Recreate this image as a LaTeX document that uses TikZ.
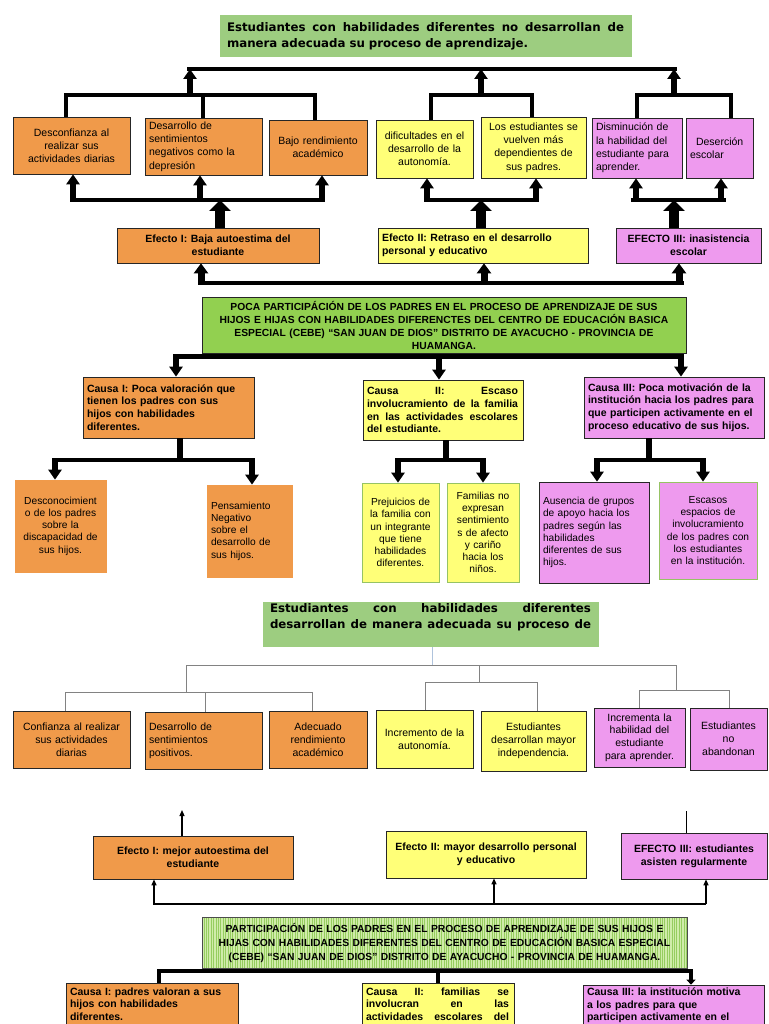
\documentclass[tikz,border=0pt]{standalone}
\usepackage{fontspec}
\setmainfont{Liberation Sans}
\newfontfamily\ttlfont{DejaVu Sans}
\usetikzlibrary{arrows.meta,patterns.meta}
\definecolor{cOr}{RGB}{240,154,74}
\definecolor{cYe}{RGB}{255,255,120}
\definecolor{cPk}{RGB}{238,154,238}
\definecolor{cGt}{RGB}{157,205,128}
\definecolor{cGc}{RGB}{146,208,80}
\definecolor{cGh}{RGB}{208,236,170}
\definecolor{cGl}{RGB}{150,205,95}
\definecolor{cGb}{RGB}{150,195,100}
\definecolor{cLn}{RGB}{130,130,130}
\definecolor{cLb}{RGB}{175,195,220}
\newcommand{\jline}[2]{\leavevmode\hbox to #1{\spaceskip=0.3em plus 3em\relax #2}}
\tikzset{
  sz/.code n args={2}{\pgfmathsetmacro\mytw{#1-8}\pgfkeysalso{minimum width=#1pt,minimum height=#2pt,text width=\mytw pt}},
  bx/.style={draw=black!85, line width=0.7pt, inner xsep=3.5pt, inner ysep=2pt, align=center, text=black, font=\fontsize{10.5}{13.2}\selectfont},
  bxs/.style={bx, font=\fontsize{10.2}{12.2}\selectfont},
  bxb/.style={bx, font=\fontsize{10.5}{12.8}\selectfont\bfseries},
  bxq/.style={bx, font=\fontsize{10.5}{12.3}\selectfont\bfseries},
  ora/.style={fill=cOr}, yel/.style={fill=cYe}, pnk/.style={fill=cPk},
  lt/.style={align=left},
  ttl/.style={fill=cGt, draw=none, inner xsep=3pt, inner ysep=2pt, align=left, font=\ttlfont\bfseries\fontsize{11.8}{16}\selectfont},
  cen/.style={draw=black!85, line width=1pt, inner xsep=3.5pt, inner ysep=2pt, align=center, font=\fontsize{10.3}{13}\selectfont\bfseries},
  bar/.style={line width=4.5pt},
  arrA/.style={line width=5.5pt, -{Triangle[width=13pt,length=10pt]}},
  arrB/.style={line width=10pt, -{Triangle[width=21pt,length=11pt]}},
  arrC/.style={line width=7pt, -{Triangle[width=14pt,length=10pt]}},
  thn/.style={draw=cLn, line width=0.9pt},
  arrT/.style={line width=1.2pt, -{Triangle[width=5pt,length=6pt]}},
}
\begin{document}
\begin{tikzpicture}[x=1pt,y=-1pt]
\useasboundingbox (0,0) rectangle (768,1024);
\clip (0,0) rectangle (768,1024);
\fill[white] (0,0) rectangle (768,1024);

% ================= FIRST TREE =================
\node[ttl, sz={412}{42}, text width=398pt] (t1) at (426,36) {\jline{397pt}{Estudiantes con habilidades diferentes no desarrollan de}\\manera adecuada su proceso de aprendizaje.};

\node[bx, ora, sz={117}{57}] (a1) at (71.5,145.5) {Desconfianza al\\realizar sus\\actividades diarias};
\node[bx, ora, lt, sz={117}{57}] (a2) at (203.5,146.5) {Desarrollo de\\sentimientos\\negativos como la\\depresión};
\node[bx, ora, sz={98}{55}] (a3) at (318,147.5) {Bajo rendimiento\\académico};
\node[bx, yel, sz={97}{58}] (b1) at (424.5,149) {dificultades en el\\desarrollo de la\\autonomía.};
\node[bx, yel, sz={105}{61}] (b2) at (533.5,147.5) {Los estudiantes se\\vuelven más\\dependientes de\\sus padres.};
\node[bx, pnk, lt, sz={90}{60}] (c1) at (637,148) {Disminución de\\la habilidad del\\estudiante para\\aprender.};
\node[bx, pnk, lt, sz={67}{60}] (c2) at (719.5,148) {\hspace*{6pt}Deserción\\escolar};

\node[bxb, ora, sz={202}{35}] (e1) at (218,245.5) {Efecto I: Baja autoestima del\\estudiante};
\node[bxb, yel, lt, sz={210}{35}] (e2) at (483,245.5) {Efecto II: Retraso en el desarrollo\\personal y educativo};
\node[bxb, pnk, sz={145}{35}] (e3) at (688.5,245.5) {EFECTO III: inasistencia\\escolar};

\node[cen, fill=cGc, sz={484}{56}] (p1) at (444,325) {POCA PARTICIPÁCIÓN DE LOS PADRES EN EL PROCESO DE APRENDIZAJE DE SUS\\HIJOS E HIJAS CON HABILIDADES DIFERENCTES DEL CENTRO DE EDUCACIÓN BASICA\\ESPECIAL (CEBE) “SAN JUAN DE DIOS” DISTRITO DE AYACUCHO - PROVINCIA DE\\HUAMANGA.};

\node[bxb, ora, lt, sz={171}{61}] (k1) at (168.5,407.5) {Causa I: Poca valoración que\\tienen los padres con sus\\hijos con habilidades\\diferentes.};
\node[bxb, yel, lt, sz={160}{60}] (k2) at (443,410) {\jline{151pt}{Causa II: Escaso}\\\jline{151pt}{involucramiento de la familia}\\\jline{151pt}{en las actividades escolares}\\del estudiante.};
\node[bxb, pnk, lt, sz={180}{61}] (k3) at (674,407.5) {Causa III: Poca motivación de la\\institución hacia los padres para\\que participen activamente en el\\proceso educativo de sus hijos.};

\node[bxs, ora, draw=cOr, sz={91}{92}] (d1) at (60.5,526) {Desconocimient\\o de los padres\\sobre la\\discapacidad de\\sus hijos.};
\node[bxs, ora, draw=cOr, lt, sz={85}{92}] (d2) at (249.5,531) {Pensamiento\\Negativo\\sobre el\\desarrollo de\\sus hijos.};
\node[bxs, yel, draw=cGb, sz={77}{99}] (d3) at (400.5,532.5) {Prejuicios de\\la familia con\\un integrante\\que tiene\\habilidades\\diferentes.};
\node[bxs, yel, draw=cGb, sz={72}{99}] (d4) at (483,532.5) {Familias no\\expresan\\sentimiento\\s de afecto\\y cariño\\hacia los\\niños.};
\node[bxs, pnk, lt, sz={110}{101}] (d5) at (594,532.5) {Ausencia de grupos\\de apoyo hacia los\\padres según las\\habilidades\\diferentes de sus\\hijos.};
\node[bxs, pnk, draw=cGb, sz={98}{97}] (d6) at (708,530.5) {Escasos\\espacios de\\involucramiento\\de los padres con\\los estudiantes\\en la institución.};

% connectors, top level
\coordinate (tbL) at (187,69); \coordinate (tbR) at (676.5,69);
\coordinate (g1) at (190,95); \coordinate (g2) at (481,95); \coordinate (g3) at (674,95);
\coordinate (g1L) at (66,95); \coordinate (g1M) at (203,95); \coordinate (g1R) at (315,95);
\coordinate (g2L) at (431,95); \coordinate (g2R) at (532,95);
\coordinate (g3L) at (637,95); \coordinate (g3R) at (731,95);
\draw[bar] (tbL) -- (tbR);
\draw[bar] (a1.north -| g1L) -- (g1L) -- (g1R) -- (a3.north -| g1R);
\draw[bar] (a2.north -| g1M) -- (g1M);
\draw[bar] (b1.north -| g2L) -- (g2L) -- (g2R) -- (b2.north -| g2R);
\draw[bar] (c1.north -| g3L) -- (g3L) -- (g3R) -- (c2.north -| g3R);
\draw[arrA] (g1) -- (g1 |- tbL);
\draw[arrA] (g2) -- (g2 |- tbL);
\draw[arrA] (g3) -- (g3 |- tbL);

% y = 200
\coordinate (h1L) at (70,200); \coordinate (h1R) at (325,200);
\coordinate (h1a) at (73,200); \coordinate (h1b) at (200,200); \coordinate (h1c) at (322,200); \coordinate (h1e) at (220,200);
\coordinate (h2L) at (424,200); \coordinate (h2R) at (539,200);
\coordinate (h2a) at (427,200); \coordinate (h2b) at (536,200); \coordinate (h2e) at (481,200);
\coordinate (h3L) at (631,200); \coordinate (h3R) at (726,200);
\coordinate (h3a) at (636,200); \coordinate (h3b) at (721,200); \coordinate (h3e) at (674,200);
\draw[bar] (h1L) -- (h1R);
\draw[bar] (h2L) -- (h2R);
\draw[bar] (h3L) -- (h3R);
\draw[arrA] (h1a) -- (a1.south -| h1a);
\draw[arrA] (h1b) -- (a2.south -| h1b);
\draw[arrA] (h1c) -- (a3.south -| h1c);
\draw[arrA] (h2a) -- (b1.south -| h2a);
\draw[arrA] (h2b) -- (b2.south -| h2b);
\draw[arrA] (h3a) -- (c1.south -| h3a);
\draw[arrA] (h3b) -- (c2.south -| h3b);
\draw[arrB] (e1.north -| h1e) -- (h1e);
\draw[arrB] (e2.north -| h2e) -- (h2e);
\draw[arrB] (e3.north -| h3e) -- (h3e);

% y = 283
\coordinate (iL) at (198,283); \coordinate (iR) at (684,283);
\coordinate (i1) at (201,283); \coordinate (i2) at (484,283); \coordinate (i3) at (679,283);
\draw[bar] (iL) -- (iR);
\draw[arrC] (i1) -- (e1.south -| i1);
\draw[arrC] (i2) -- (e2.south -| i2);
\draw[arrC] (i3) -- (e3.south -| i3);

% y = 356
\coordinate (jL) at (173,356); \coordinate (jR) at (684,356);
\coordinate (j1) at (176,356); \coordinate (j2) at (439,356); \coordinate (j3) at (681,356);
\draw[line width=5pt] (jL) -- (jR);
\draw[arrA] (j1) -- (k1.north -| j1);
\draw[arrA] (j2) -- (k2.north -| j2);
\draw[arrA] (j3) -- (k3.north -| j3);

% y = 460
\coordinate (l1s) at (180,460); \coordinate (l1L) at (52,460); \coordinate (l1R) at (255,460);
\coordinate (l1a) at (55,460); \coordinate (l1b) at (252,460);
\coordinate (l2s) at (446,460); \coordinate (l2L) at (395,460); \coordinate (l2R) at (486,460);
\coordinate (l2a) at (398,460); \coordinate (l2b) at (483,460);
\coordinate (l3s) at (649,460); \coordinate (l3L) at (594,460); \coordinate (l3R) at (706,460);
\coordinate (l3a) at (597,460); \coordinate (l3b) at (703,460);
\draw[line width=6pt] (k1.south -| l1s) -- (l1s);
\draw[line width=6pt] (k2.south -| l2s) -- (l2s);
\draw[line width=6pt] (k3.south -| l3s) -- (l3s);
\draw[bar] (l1L) -- (l1R);
\draw[bar] (l2L) -- (l2R);
\draw[bar] (l3L) -- (l3R);
\draw[arrA] (l1a) -- (d1.north -| l1a);
\draw[arrA] (l1b) -- (d2.north -| l1b);
\draw[arrA] (l2a) -- (d3.north -| l2a);
\draw[arrA] (l2b) -- (d4.north -| l2b);
\draw[arrA] (l3a) -- (d5.north -| l3a);
\draw[arrA] (l3b) -- (d6.north -| l3b);

% ================= SECOND TREE =================
\node[ttl, sz={336}{45}, text width=322pt] (t2) at (431,624.5) {\jline{321pt}{Estudiantes con habilidades diferentes}\\\jline{321pt}{desarrollan de manera adecuada su proceso de}\\\mbox{}};

\node[bx, ora, sz={117}{57}] (f1) at (71.5,739.5) {Confianza al realizar\\sus actividades\\diarias};
\node[bx, ora, lt, sz={117}{57}] (f2) at (203.5,740.5) {Desarrollo de\\sentimientos\\positivos.};
\node[bx, ora, sz={98}{57}] (f3) at (318,739.5) {Adecuado\\rendimiento\\académico};
\node[bx, yel, sz={97}{58}] (f4) at (424.5,739) {Incremento de la\\autonomía.};
\node[bx, yel, sz={105}{60}] (f5) at (533.5,741) {Estudiantes\\desarrollan mayor\\independencia.};
\node[bx, pnk, sz={91}{59}, font=\fontsize{10.5}{12.6}\selectfont] (f6) at (639.5,737.5) {Incrementa la\\habilidad del\\estudiante\\para aprender.};
\node[bx, pnk, sz={77}{62}] (f7) at (728.5,739) {Estudiantes\\no\\abandonan};

\node[bxb, ora, sz={200}{43}] (ef1) at (193,857.5) {Efecto I: mejor autoestima del\\estudiante};
\node[bxb, yel, sz={200}{47}] (ef2) at (486,854.5) {Efecto II: mayor desarrollo personal\\y educativo};
\node[bxb, pnk, sz={146}{46}] (ef3) at (694,856) {EFECTO III: estudiantes\\asisten regularmente};

\node[cen, draw=black!70, preaction={fill=cGh}, pattern={Lines[angle=90,distance=2.4pt,line width=1pt]}, pattern color=cGl, sz={485}{51}, font=\fontsize{10.3}{14}\selectfont\bfseries] (p2) at (444.5,942.5) {PARTICIPACIÓN DE LOS PADRES EN EL PROCESO DE APRENDIZAJE DE SUS HIJOS E\\HIJAS CON HABILIDADES DIFERENTES DEL CENTRO DE EDUCACIÓN BASICA ESPECIAL\\(CEBE) “SAN JUAN DE DIOS” DISTRITO DE AYACUCHO - PROVINCIA DE HUAMANGA.};

\node[bxq, ora, lt, sz={172}{42}] (q1) at (152,1004) {Causa I: padres valoran a sus\\hijos con habilidades\\diferentes.};
\node[bxq, yel, lt, sz={152}{42}] (q2) at (438,1004) {\jline{143pt}{Causa II: familias se}\\\jline{143pt}{involucran en las}\\\jline{143pt}{actividades escolares del}};
\node[bxq, pnk, lt, sz={181}{41}] (q3) at (673.5,1005.5) {Causa III: la institución motiva\\a los padres para que\\participen activamente en el};

% thin connectors
\coordinate (m0) at (432,665); \coordinate (mL) at (186,665); \coordinate (mR) at (676,665); \coordinate (m2) at (479,665);
\draw[thn, draw=cLb] (t2.south -| m0) -- (m0);
\draw[thn] (mL) -- (mR);
\coordinate (n1) at (186,692); \coordinate (n1L) at (65,692); \coordinate (n1M) at (205,692); \coordinate (n1R) at (312,692);
\draw[thn] (mL) -- (n1);
\draw[thn] (f1.north -| n1L) -- (n1L) -- (n1R) -- (f3.north -| n1R);
\draw[thn] (n1M) -- (f2.north -| n1M);
\coordinate (n2) at (479,682); \coordinate (n2L) at (425,682); \coordinate (n2R) at (537,682);
\draw[thn] (m2) -- (n2);
\draw[thn] (f4.north -| n2L) -- (n2L) -- (n2R) -- (f5.north -| n2R);
\coordinate (n3) at (676,690); \coordinate (n3L) at (639,690); \coordinate (n3R) at (729,690);
\draw[thn] (mR) -- (n3);
\draw[thn] (f6.north -| n3L) -- (n3L) -- (n3R) -- (f7.north -| n3R);

\coordinate (u1) at (182,810); \coordinate (u3) at (686,811);
\draw[arrT] (ef1.north -| u1) -- (u1);
\draw[line width=1pt] (ef3.north -| u3) -- (u3);
\coordinate (w1) at (154,904); \coordinate (w2) at (494,904); \coordinate (w3) at (706,904);
\draw[arrT] (w3) -- (w1) -- (ef1.south -| w1);
\draw[arrT] (w2) -- (ef2.south -| w2);
\draw[arrT] (w3) -- (ef3.south -| w3);

\coordinate (v1) at (159,971); \coordinate (v2) at (438,971); \coordinate (v3) at (691,971);
\draw[line width=3.5pt, -{Triangle[width=9pt,length=5pt]}] (q1.north -| v1) -- (v1) -- (v3) -- (q3.north -| v3);
\draw[line width=3.5pt] (v2) -- (q2.north -| v2);
\end{tikzpicture}
\end{document}
